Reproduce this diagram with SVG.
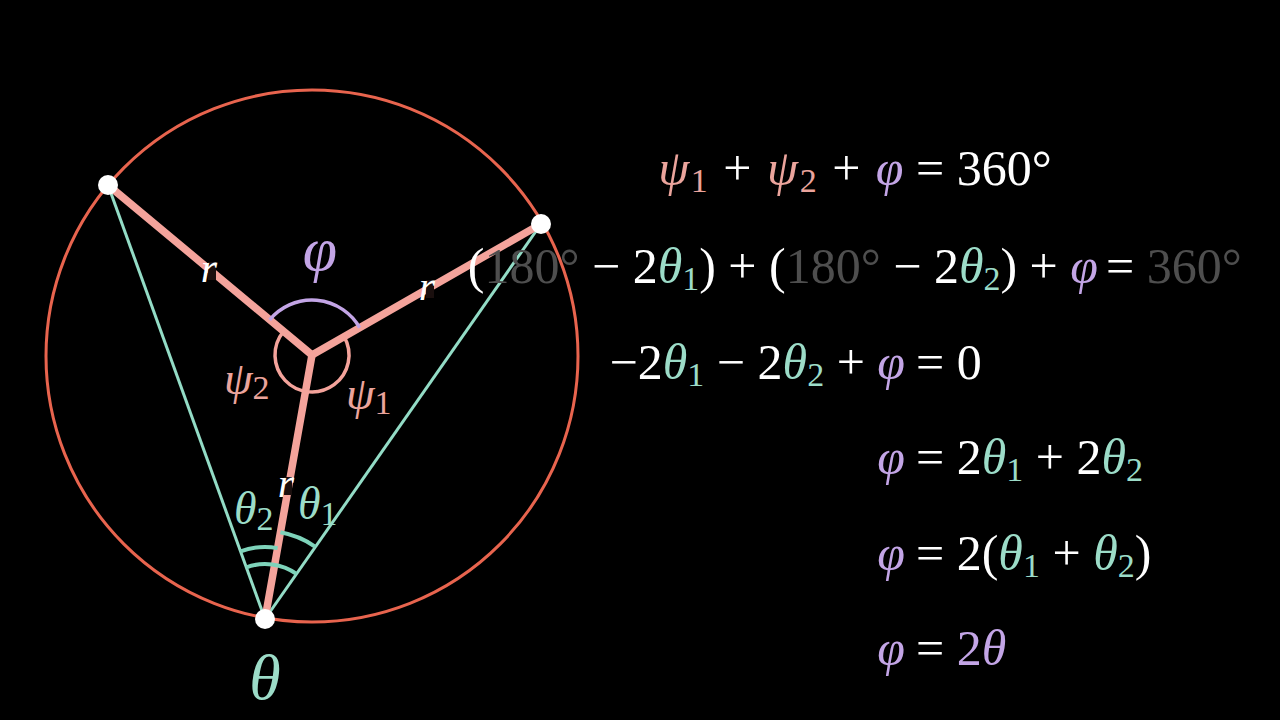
<svg xmlns="http://www.w3.org/2000/svg" width="1280" height="720" viewBox="0 0 1280 720">
<style>
.circ{fill:none;stroke:#E8644E;stroke-width:3}
.rad{stroke:#F4A39B;stroke-width:7.5;stroke-linecap:round;fill:none}
.chord{stroke:#93DCC6;stroke-width:3;fill:none}
.tarc{stroke:#7ED3BA;stroke-width:4;fill:none}
.parc{stroke:#C3A5E6;stroke-width:3.5;fill:none}
.sarc{stroke:#F4A39B;stroke-width:3.5;fill:none}
.dot{fill:#FFFFFF}
text{font-family:"Liberation Serif","DejaVu Serif",serif;fill:#FFFFFF}
.it{font-style:italic}
.eq{font-size:50px}
.lbl{font-size:46px}
.teal{fill:#9CDCC8}
.pur{fill:#C3A5E6}
.sal{fill:#EBA49C}
.gray{fill:#4E4E4E}
.sub{font-size:34px}
.rl{font-size:42px;font-style:italic}
.rbg{fill:#1A0F0E}
</style>
<rect width="1280" height="720" fill="#000000"/>

<g id="circle">
<circle class="circ" cx="312" cy="356" r="266"/>
</g>

<g id="connectors">
<line class="chord" x1="265" y1="619" x2="108" y2="185"/>
<line class="chord" x1="265" y1="619" x2="541" y2="224"/>
<line class="rad" x1="312" y1="355" x2="108" y2="185"/>
<line class="rad" x1="312" y1="355" x2="541" y2="224"/>
<line class="rad" x1="312" y1="355" x2="265" y2="619"/>
</g>

<g id="angles">
<path class="parc" d="M269.7,319.8 A55,55 0 0 1 359.7,327.7"/>
<path class="sarc" d="M283.6,331.3 A37,37 0 1 0 344.1,336.6"/>
<path class="tarc" d="M246.3,567.3 A55,55 0 0 1 296.5,573.9"/>
<path class="tarc" d="M240.5,551.3 A72,72 0 0 1 277.6,548.1"/>
<path class="tarc" d="M280.4,532.3 A88,88 0 0 1 315.4,546.8"/>
</g>

<g id="pointA"><circle class="dot" cx="108" cy="185" r="10"/></g>
<g id="pointB"><circle class="dot" cx="541" cy="224" r="10"/></g>
<g id="pointC"><circle class="dot" cx="265" cy="619" r="10"/></g>

<g id="labels">
<rect class="rbg" x="208" y="262" width="8" height="18"/>
<text class="rl" x="209" y="282" text-anchor="middle">r</text>
<rect class="rbg" x="426" y="280" width="8" height="18"/>
<text class="rl" x="427" y="300" text-anchor="middle">r</text>
<rect class="rbg" x="284" y="477" width="8" height="18"/>
<text class="rl" x="286" y="497" text-anchor="middle">r</text>
<text class="it pur" x="320" y="270" font-size="62" text-anchor="middle">φ</text>
<text class="lbl sal" x="224" y="394"><tspan class="it">ψ</tspan><tspan class="sub" dy="5">2</tspan></text>
<text class="lbl sal" x="346" y="409"><tspan class="it">ψ</tspan><tspan class="sub" dy="5">1</tspan></text>
<text class="lbl teal" x="234" y="524"><tspan class="it">θ</tspan><tspan class="sub" dy="6">2</tspan></text>
<text class="lbl teal" x="298" y="519"><tspan class="it">θ</tspan><tspan class="sub" dy="6">1</tspan></text>
<text class="it teal" x="265" y="699" font-size="64" text-anchor="middle">θ</text>
</g>

<g id="eq1">
<text class="eq" x="905" y="185" text-anchor="end" letter-spacing="1.5"><tspan class="it sal">ψ</tspan><tspan class="sub sal" dy="7">1</tspan><tspan dy="-7"> + </tspan><tspan class="it sal">ψ</tspan><tspan class="sub sal" dy="7">2</tspan><tspan dy="-7"> + </tspan><tspan class="it pur">φ</tspan></text>
<text class="eq" x="916" y="185">= 360°</text>
</g>

<g id="eq2">
<text class="eq" x="1098" y="283" text-anchor="end"><tspan>(</tspan><tspan class="gray">180°</tspan><tspan> − 2</tspan><tspan class="it teal">θ</tspan><tspan class="sub teal" dy="7">1</tspan><tspan dy="-7">) + (</tspan><tspan class="gray">180°</tspan><tspan> − 2</tspan><tspan class="it teal">θ</tspan><tspan class="sub teal" dy="7">2</tspan><tspan dy="-7">) + </tspan><tspan class="it pur">φ</tspan></text>
<text class="eq" x="1106" y="283">= <tspan class="gray">360°</tspan></text>
</g>

<g id="eq3">
<text class="eq" x="905" y="379" text-anchor="end"><tspan>−2</tspan><tspan class="it teal">θ</tspan><tspan class="sub teal" dy="7">1</tspan><tspan dy="-7"> − 2</tspan><tspan class="it teal">θ</tspan><tspan class="sub teal" dy="7">2</tspan><tspan dy="-7"> + </tspan><tspan class="it pur">φ</tspan></text>
<text class="eq" x="916" y="379">= 0</text>
</g>

<g id="eq4">
<text class="eq" x="905" y="474" text-anchor="end"><tspan class="it pur">φ</tspan></text>
<text class="eq" x="916" y="474">= 2<tspan class="it teal">θ</tspan><tspan class="sub teal" dy="7">1</tspan><tspan dy="-7"> + 2</tspan><tspan class="it teal">θ</tspan><tspan class="sub teal" dy="7">2</tspan></text>
</g>

<g id="eq5">
<text class="eq" x="905" y="570" text-anchor="end"><tspan class="it pur">φ</tspan></text>
<text class="eq" x="916" y="570">= 2(<tspan class="it teal">θ</tspan><tspan class="sub teal" dy="7">1</tspan><tspan dy="-7"> + </tspan><tspan class="it teal">θ</tspan><tspan class="sub teal" dy="7">2</tspan><tspan dy="-7">)</tspan></text>
</g>

<g id="eq6">
<text class="eq" x="905" y="665" text-anchor="end"><tspan class="it pur">φ</tspan></text>
<text class="eq" x="916" y="665">= <tspan class="pur">2</tspan><tspan class="it pur">θ</tspan></text>
</g>
</svg>
